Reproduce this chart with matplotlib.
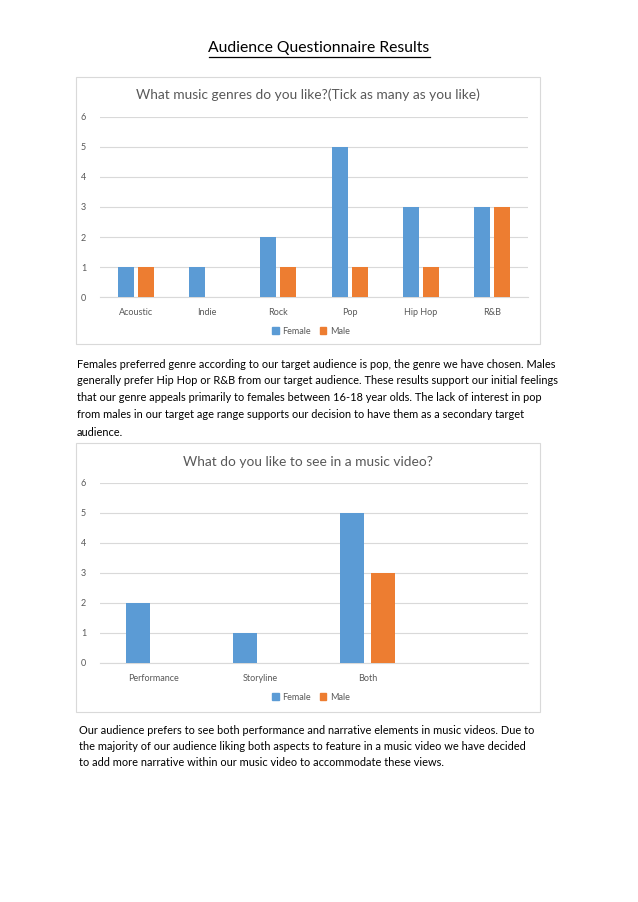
import numpy as np
import matplotlib.pyplot as plt
from matplotlib.patches import Rectangle, Patch
from matplotlib.lines import Line2D

W, H = 638, 902

genres = ["Acoustic", "Indie", "Rock", "Pop", "Hip Hop", "R&B"]
genre_female = [1, 1, 2, 5, 3, 3]
genre_male = [1, 0, 1, 1, 1, 3]

video_cats = ["Performance", "Storyline", "Both", ""]
video_female = [2, 1, 5, 0]
video_male = [0, 0, 3, 0]

para1 = ["Females preferred genre according to our target audience is pop, the genre we have chosen. Males",
         "generally prefer Hip Hop or R&B from our target audience. These results support our initial feelings",
         "that our genre appeals primarily to females between 16-18 year olds. The lack of interest in pop",
         "from males in our target age range supports our decision to have them as a secondary target",
         "audience."]
para2 = ["Our audience prefers to see both performance and narrative elements in music videos. Due to",
         "the majority of our audience liking both aspects to feature in a music video we have decided",
         "to add more narrative within our music video to accommodate these views."]

blue = "#5B9BD5"
orange = "#ED7D31"
grey = "#595959"
FONT = "Lato"

fig = plt.figure(figsize=(W / 100, H / 100), dpi=100)


def fx(px):
    return px / W


def fy(py):
    return 1 - py / H


# page title with underline
fig.text(fx(319), fy(48), "Audience Questionnaire Results", ha="center", va="center",
         fontsize=11.3, family=FONT, color="black")
fig.add_artist(Line2D([fx(209), fx(430)], [fy(57), fy(57)], color="black", lw=0.9))


def chart(box, ax_rect, title, title_y, cats, fem, male, w, off, legend_y, title_size):
    x0, y0, x1, y1 = box
    fig.add_artist(Rectangle((fx(x0), fy(y1)), fx(x1 - x0), (y1 - y0) / H,
                             fill=False, edgecolor="#D9D9D9", lw=0.8))
    fig.text(fx((x0 + x1) / 2), fy(title_y), title, ha="center", va="center",
             fontsize=title_size, color=grey, family=FONT)
    ax = fig.add_axes(ax_rect)
    x = np.arange(len(cats))
    ax.bar(x - off, fem, width=w, color=blue, zorder=3)
    ax.bar(x + off, male, width=w, color=orange, zorder=3)
    ax.set_xlim(-0.5, len(cats) - 0.5)
    ax.set_ylim(0, 6)
    ax.set_yticks(range(7))
    ax.set_xticks(x)
    ax.set_xticklabels(cats)
    ax.yaxis.grid(True, color="#D9D9D9", lw=0.8, zorder=0)
    for s in ax.spines.values():
        s.set_visible(False)
    ax.spines["bottom"].set_visible(True)
    ax.spines["bottom"].set_color("#D9D9D9")
    ax.tick_params(length=0, labelsize=6.5, colors=grey, pad=8)
    ax.tick_params(axis="y", pad=10)
    for lab in ax.get_xticklabels() + ax.get_yticklabels():
        lab.set_family(FONT)
    handles = [Patch(color=blue, label="Female"), Patch(color=orange, label="Male")]
    fig.legend(handles=handles, loc="center", bbox_to_anchor=(fx(311), fy(legend_y)), ncol=2,
               frameon=False, prop={"family": FONT, "size": 6.5}, handlelength=0.7,
               handleheight=0.7, handletextpad=0.4, columnspacing=1.0, labelcolor=grey)
    return ax


chart((76, 77, 540, 344), [fx(100), fy(297), fx(528) - fx(100), 180 / H],
      "What music genres do you like?(Tick as many as you like)", 95,
      genres, genre_female, genre_male, 0.225, 0.14, 331, 9.9)

chart((76, 443, 540, 712), [fx(100), fy(663), fx(528) - fx(100), 180 / H],
      "What do you like to see in a music video?", 462,
      video_cats, video_female, video_male, 0.225, 0.145, 697, 9.9)

for i, line in enumerate(para1):
    fig.text(fx(77), fy(364 + 17 * i), line, ha="left", va="center", fontsize=7.95,
             family=FONT, color="black")
for i, line in enumerate(para2):
    fig.text(fx(79), fy(730 + 16 * i), line, ha="left", va="center", fontsize=7.95,
             family=FONT, color="black")

fig.savefig("out.png", dpi=100)
